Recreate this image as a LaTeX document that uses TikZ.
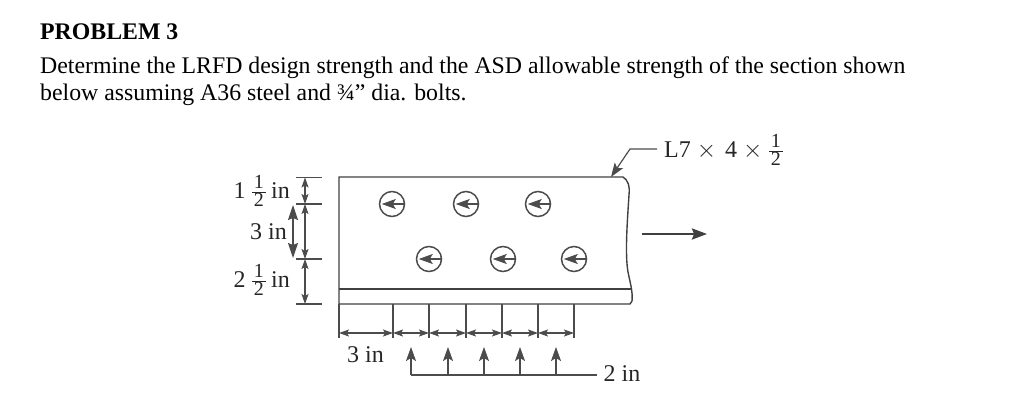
\documentclass[tikz,border=0pt]{standalone}
\usepackage{fontspec}
\setmainfont{Liberation Serif}
\usetikzlibrary{arrows.meta}

\newcommand{\fracpart}[1]{\hbox to 14pt{\hss\fontsize{20}{20}\selectfont #1\hss}}
\newcommand{\half}{$\frac{\fracpart{1}}{\fracpart{2}}$}

\tikzset{
  plate/.style = {draw=black!75, line width=1.4pt},
  thin line/.style = {draw=black!70, line width=1.2pt},
  dim/.style = {thin line, {Stealth[length=10pt,width=7pt,inset=2pt]}-{Stealth[length=10pt,width=7pt,inset=2pt]}},
  tip/.style = {thin line, -{Stealth[length=14pt,width=10pt,inset=3pt]}},
  bolt/.style = {draw=black!70, line width=1.5pt, circle, minimum size=25pt, inner sep=0pt},
  dimlabel/.style = {inner sep=0pt, text=black!85, font=\fontsize{24}{27}\selectfont},
  headtext/.style = {inner sep=0pt, align=left, anchor=north west, font=\fontsize{23.8}{27}\selectfont}
}

\begin{document}
\begin{tikzpicture}[x=1pt,y=-1pt]
\useasboundingbox (0,0) rectangle (1024,418);

\node[headtext] (title) at (40,24) {\textbf{PROBLEM 3}};
\node[headtext] (question) at (40,57) {Determine the LRFD design strength and the ASD allowable strength of the section shown\\below assuming A36 steel and ¾” dia. bolts.};

% angle outline
\coordinate (topleft) at (339,177);
\coordinate (topright) at (623,177);
\coordinate (botleft) at (339,304);
\coordinate (botright) at (630,304);
\coordinate (legleft) at (339,289);
\coordinate (legright) at (631,289);
\draw[plate] (botleft) -- (topleft) -- (topright)
  .. controls (628,180) and (630,186) .. (629,195)
  .. controls (627,225) and (625,255) .. (628,272)
  .. controls (630,282) and (633,292) .. (632,301)
  -- (botright) -- (botleft);
\draw[plate] (legleft) -- (legright);

% bolts, upper and lower row
\foreach \name/\x/\y in {a/392/204,b/466/204,c/538/204,d/429/259,e/503/259,f/574/259} {
  \node[bolt] (bolt\name) at (\x,\y) {};
  \draw[draw=black!70, line width=1.2pt, -{Stealth[length=14pt,width=10pt,inset=3pt]}] (bolt\name.east) -- ([xshift=3pt]bolt\name.west);
}

% left dimensions
\foreach \name/\y in {t/177.5,u/204,v/259,w/304} {
  \coordinate (\name1) at (296,\y);
  \coordinate (\name2) at (322,\y);
  \coordinate (\name) at (305,\y);
  \draw[thin line] (\name1) -- (\name2);
}
\draw[dim] (t) -- (u);
\draw[dim] (u) -- (v);
\draw[dim] (v) -- (w);
\coordinate (pitchtop) at (293,205);
\coordinate (pitchbot) at (293,258);
\draw[thin line, {Stealth[length=15pt,width=10pt,inset=2pt]}-{Stealth[length=15pt,width=10pt,inset=2pt]}] (pitchtop) -- (pitchbot);
\node[dimlabel, anchor=east] (edgeone) at (290,191) {1\kern5pt\half\kern4pt in};
\node[dimlabel, anchor=east] (pitch) at (287,232) {3 in};
\node[dimlabel, anchor=east] (edgetwo) at (290,280) {2\kern5pt\half\kern4pt in};

% bottom dimensions
\foreach \name/\x in {p/339,q/393,r/429,s/466,m/502,n/538,o/574} {
  \coordinate (\name top) at (\x,304);
  \coordinate (\name) at (\x,333);
  \coordinate (\name low) at (\x,338);
  \draw[thin line] (\name top) -- (\name low);
}
\foreach \from/\to in {p/q,q/r,r/s,s/m,m/n,n/o} \draw[dim] (\from) -- (\to);
\node[dimlabel] (threein) at (365.5,355) {3 in};
\node[dimlabel] (twoin) at (622,374) {2 in};

% row of small arrows
\coordinate (corner) at (411,375);
\draw[thin line] (twoin.west) ++(-6,1) coordinate (leaderend) -- (corner);
\foreach \x in {411,448,484,520,556} {
  \coordinate (from\x) at (\x,375);
  \coordinate (to\x) at (\x,347);
  \draw[tip] (from\x) -- (to\x);
}

% section label and load
\node[inner sep=0pt, anchor=west, text=black!85, font=\fontsize{24}{27}\selectfont] (section) at (664,150) {L7 $\times$\kern3pt{} 4 $\times$\kern5pt\half};
\coordinate (leaderbend) at (630,149);
\coordinate (leadertip) at (611,177);
\draw[thin line, -{Stealth[length=14pt,width=10pt,inset=3pt]}] (section.west |- leaderbend) ++(-7,0) -- (leaderbend) -- (leadertip);
\coordinate (loadstart) at (642,234);
\coordinate (loadend) at (707,234);
\draw[draw=black!75, line width=2.4pt, -{Stealth[length=15pt,width=11pt,inset=2pt]}] (loadstart) -- (loadend);
\end{tikzpicture}
\end{document}
